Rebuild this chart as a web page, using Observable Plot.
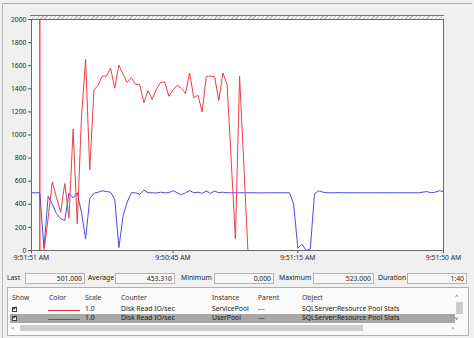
<!DOCTYPE html>
<html>
<head>
<meta charset="utf-8">
<script src="https://cdn.jsdelivr.net/npm/d3@7"></script>
<script src="https://cdn.jsdelivr.net/npm/@observablehq/plot@0.6"></script>
<style>
  html, body { margin: 0; padding: 0; background: #f0f0f0; }
  #wrap { position: relative; width: 474px; height: 338px; overflow: hidden; background: #f0f0f0;
          font-family: "Noto Sans", sans-serif; font-size: 6.8px; color: #1a1a1a; }
  #chart { position: absolute; left: 0; top: 0; }
  .abs { position: absolute; white-space: nowrap; line-height: 1; }
  .box { position: absolute; height: 11px; border: 1px solid #b4b4b4; background: #f7f7f7; box-sizing: border-box;
         text-align: right; padding-right: 2px; line-height: 9px; font-size: 6.8px; }
</style>
</head>
<body>
<div id="wrap"></div>
<script>
// ---- data (sample index 0..99, one per second, perfmon circular buffer) ----
const sampleIndex = d3.range(100);
const servicePool = [
  0, 0, 0, 0, 280, 595, 460, 330, 580, 280,
  1050, 230, 1150, 1655, 700, 1390, 1430, 1510, 1510, 1580,
  1405, 1605, 1525, 1455, 1495, 1440, 1437, 1280, 1385, 1308,
  1395, 1455, 1460, 1336, 1390, 1430, 1405, 1360, 1537, 1322,
  1345, 1201, 1508, 1510, 1505, 1299, 1537, 1437, 770, 100,
  1508, 760, 0, 0, 0, 0, 0, 0, 0, 0,
  0, 0, 0, 0, 0, 0, 0, 0, 0, 0,
  0, 0, 0, 0, 0, 0, 0, 0, 0, 0,
  0, 0, 0, 0, 0, 0, 0, 0, 0, 0,
  0, 0, 0, 0, 0, 0, 0, 0, 0, 0
];
const userPool = [
  500, 500, 500, 20, 470, 400, 320, 275, 260, 495,
  455, 500, 330, 100, 450, 495, 505, 517, 510, 505,
  445, 25, 300, 420, 500, 500, 485, 523, 500, 500,
  498, 505, 500, 500, 518, 500, 482, 500, 518, 500,
  505, 495, 515, 495, 515, 500, 505, 500, 500, 500,
  500, 500, 500, 500, 500, 498, 500, 500, 500, 500,
  500, 500, 500, 400, 20, 55, 0, 15, 490, 517,
  505, 500, 500, 500, 502, 500, 500, 500, 500, 500,
  500, 500, 500, 500, 500, 500, 500, 500, 500, 500,
  500, 500, 500, 500, 505, 510, 500, 505, 517, 510
];
const timeBarIndex = [2];
const xTickPos = [0, 34, 64, 99];
const xTickLabels = ["9:51:51 AM", "9:50:45 AM", "9:51:15 AM", "9:51:50 AM"];
const yTicks = [0, 200, 400, 600, 800, 1000, 1200, 1400, 1600, 1800, 2000];

const statLabels = ["Last", "Average", "Minimum", "Maximum", "Duration"];
const statValues = ["501.000", "453.310", "0.000", "523.000", "1:40"];

const legendHeaders = ["Show", "Color", "Scale", "Counter", "Instance", "Parent", "Object"];
const legendScale = ["1.0", "1.0"];
const legendCounter = ["Disk Read IO/sec", "Disk Read IO/sec"];
const legendInstance = ["ServicePool", "UserPool"];
const legendParent = ["---", "---"];
const legendObject = ["SQLServer:Resource Pool Stats", "SQLServer:Resource Pool Stats"];
const seriesColors = ["#f03c44", "#4b4be8"];

// ---- chart ----
const redData = sampleIndex.map(i => ({i, v: servicePool[i]}));
const blueData = sampleIndex.map(i => ({i, v: userPool[i]}));

const chart = Plot.plot({
  width: 474,
  height: 268,
  marginLeft: 31,
  marginRight: 31,
  marginTop: 19,
  marginBottom: 18,
  style: { fontFamily: "Noto Sans", fontSize: "6.8px", background: "transparent", color: "#2a2a2a" },
  x: { domain: [0, 99] },
  y: { domain: [0, 2000] },
  marks: [
    Plot.frame({ fill: "white", stroke: "none" }),
    Plot.axisY({ ticks: yTicks, tickSize: 3, tickPadding: 2, stroke: "#555", label: null,
                 tickFormat: d => String(d) }),
    Plot.axisX({ ticks: xTickPos, tickSize: 3, tickPadding: 2, stroke: "#555", label: null,
                 tickFormat: d => xTickLabels[xTickPos.indexOf(d)] }),
    Plot.line(blueData, { x: "i", y: "v", stroke: seriesColors[1], strokeWidth: 1 }),
    Plot.line(redData, { x: "i", y: "v", stroke: seriesColors[0], strokeWidth: 1 }),
    Plot.ruleX(timeBarIndex, { stroke: "#ff2020", strokeWidth: 1.2, y1: 0, y2: 2000 }),
    Plot.frame({ stroke: "#6a6a6a", strokeWidth: 1 })
  ]
});
chart.id = "chart";
const wrap = document.getElementById("wrap");
wrap.appendChild(chart);

function el(tag, cls, style, text) {
  const e = document.createElement(tag);
  if (cls) e.className = cls;
  Object.assign(e.style, style);
  if (text != null) e.textContent = text;
  wrap.appendChild(e);
  return e;
}

// window edges
el("div", null, { position: "absolute", left: "3px", top: "3px", width: "469px", height: "1px", background: "#a9a9a9" });
el("div", null, { position: "absolute", left: "2px", top: "3px", width: "1px", height: "335px", background: "#b9b9b9" });

// hatched bar on top of graph
el("div", null, { position: "absolute", left: "30px", top: "15px", width: "414px", height: "4px",
  borderTop: "1px solid #777", boxSizing: "border-box",
  background: "repeating-linear-gradient(135deg, #bcbcbc 0px, #bcbcbc 1px, #f6f6f6 1px, #f6f6f6 3px)" });

// stats row
const labelX = [7, 88, 181, 279, 378];
const boxX = [25, 115, 214, 313, 407];
const boxW = [60, 60, 60, 61, 60];
statLabels.forEach((t, k) => {
  el("div", "abs", { left: labelX[k] + "px", top: "275px" }, t);
  el("div", "box", { left: boxX[k] + "px", top: "273px", width: boxW[k] + "px" }, statValues[k]);
});

// legend table
el("div", null, { position: "absolute", left: "7px", top: "287px", width: "462px", height: "49px",
  border: "1px solid #b0b0b0", background: "#fafafa", boxSizing: "border-box" });
const colX = [12, 49, 85, 121, 212, 258, 302];
legendHeaders.forEach((t, k) => el("div", "abs", { left: colX[k] + "px", top: "295px", color: "#333" }, t));
// selected row highlight
el("div", null, { position: "absolute", left: "10px", top: "314px", width: "445px", height: "9px", background: "#a7a7a7" });
[0, 1].forEach(r => {
  const y = 306 + r * 9;
  el("div", null, { position: "absolute", left: "12px", top: (y + 1) + "px", width: "5px", height: "5px",
    border: "1px solid #444", background: "#fff", boxSizing: "border-box" });
  el("div", "abs", { left: "12.5px", top: (y - 0.5) + "px", fontSize: "5.5px", fontFamily: "DejaVu Sans" }, "✔");
  el("div", null, { position: "absolute", left: "48px", top: (y + 4) + "px", width: "32px", height: "1px", background: seriesColors[r] });
  el("div", "abs", { left: colX[2] + "px", top: y + "px" }, legendScale[r]);
  el("div", "abs", { left: colX[3] + "px", top: y + "px" }, legendCounter[r]);
  el("div", "abs", { left: colX[4] + "px", top: y + "px" }, legendInstance[r]);
  el("div", "abs", { left: colX[5] + "px", top: y + "px" }, legendParent[r]);
  el("div", "abs", { left: colX[6] + "px", top: y + "px" }, legendObject[r]);
});
// horizontal scrollbar
el("div", "abs", { left: "11px", top: "325px", fontSize: "6px", color: "#555" }, "<");
el("div", null, { position: "absolute", left: "20px", top: "325px", width: "343px", height: "6px", background: "#cdcdcd" });
el("div", "abs", { left: "451px", top: "325px", fontSize: "6px", color: "#555" }, ">");
// vertical scrollbar
el("div", "abs", { left: "455px", top: "293px", fontSize: "6px", color: "#555" }, "^");
el("div", null, { position: "absolute", left: "456px", top: "302px", width: "7px", height: "12px", background: "#cdcdcd" });
el("div", "abs", { left: "455px", top: "315px", fontSize: "6px", color: "#555" }, "v");
</script>
</body>
</html>
